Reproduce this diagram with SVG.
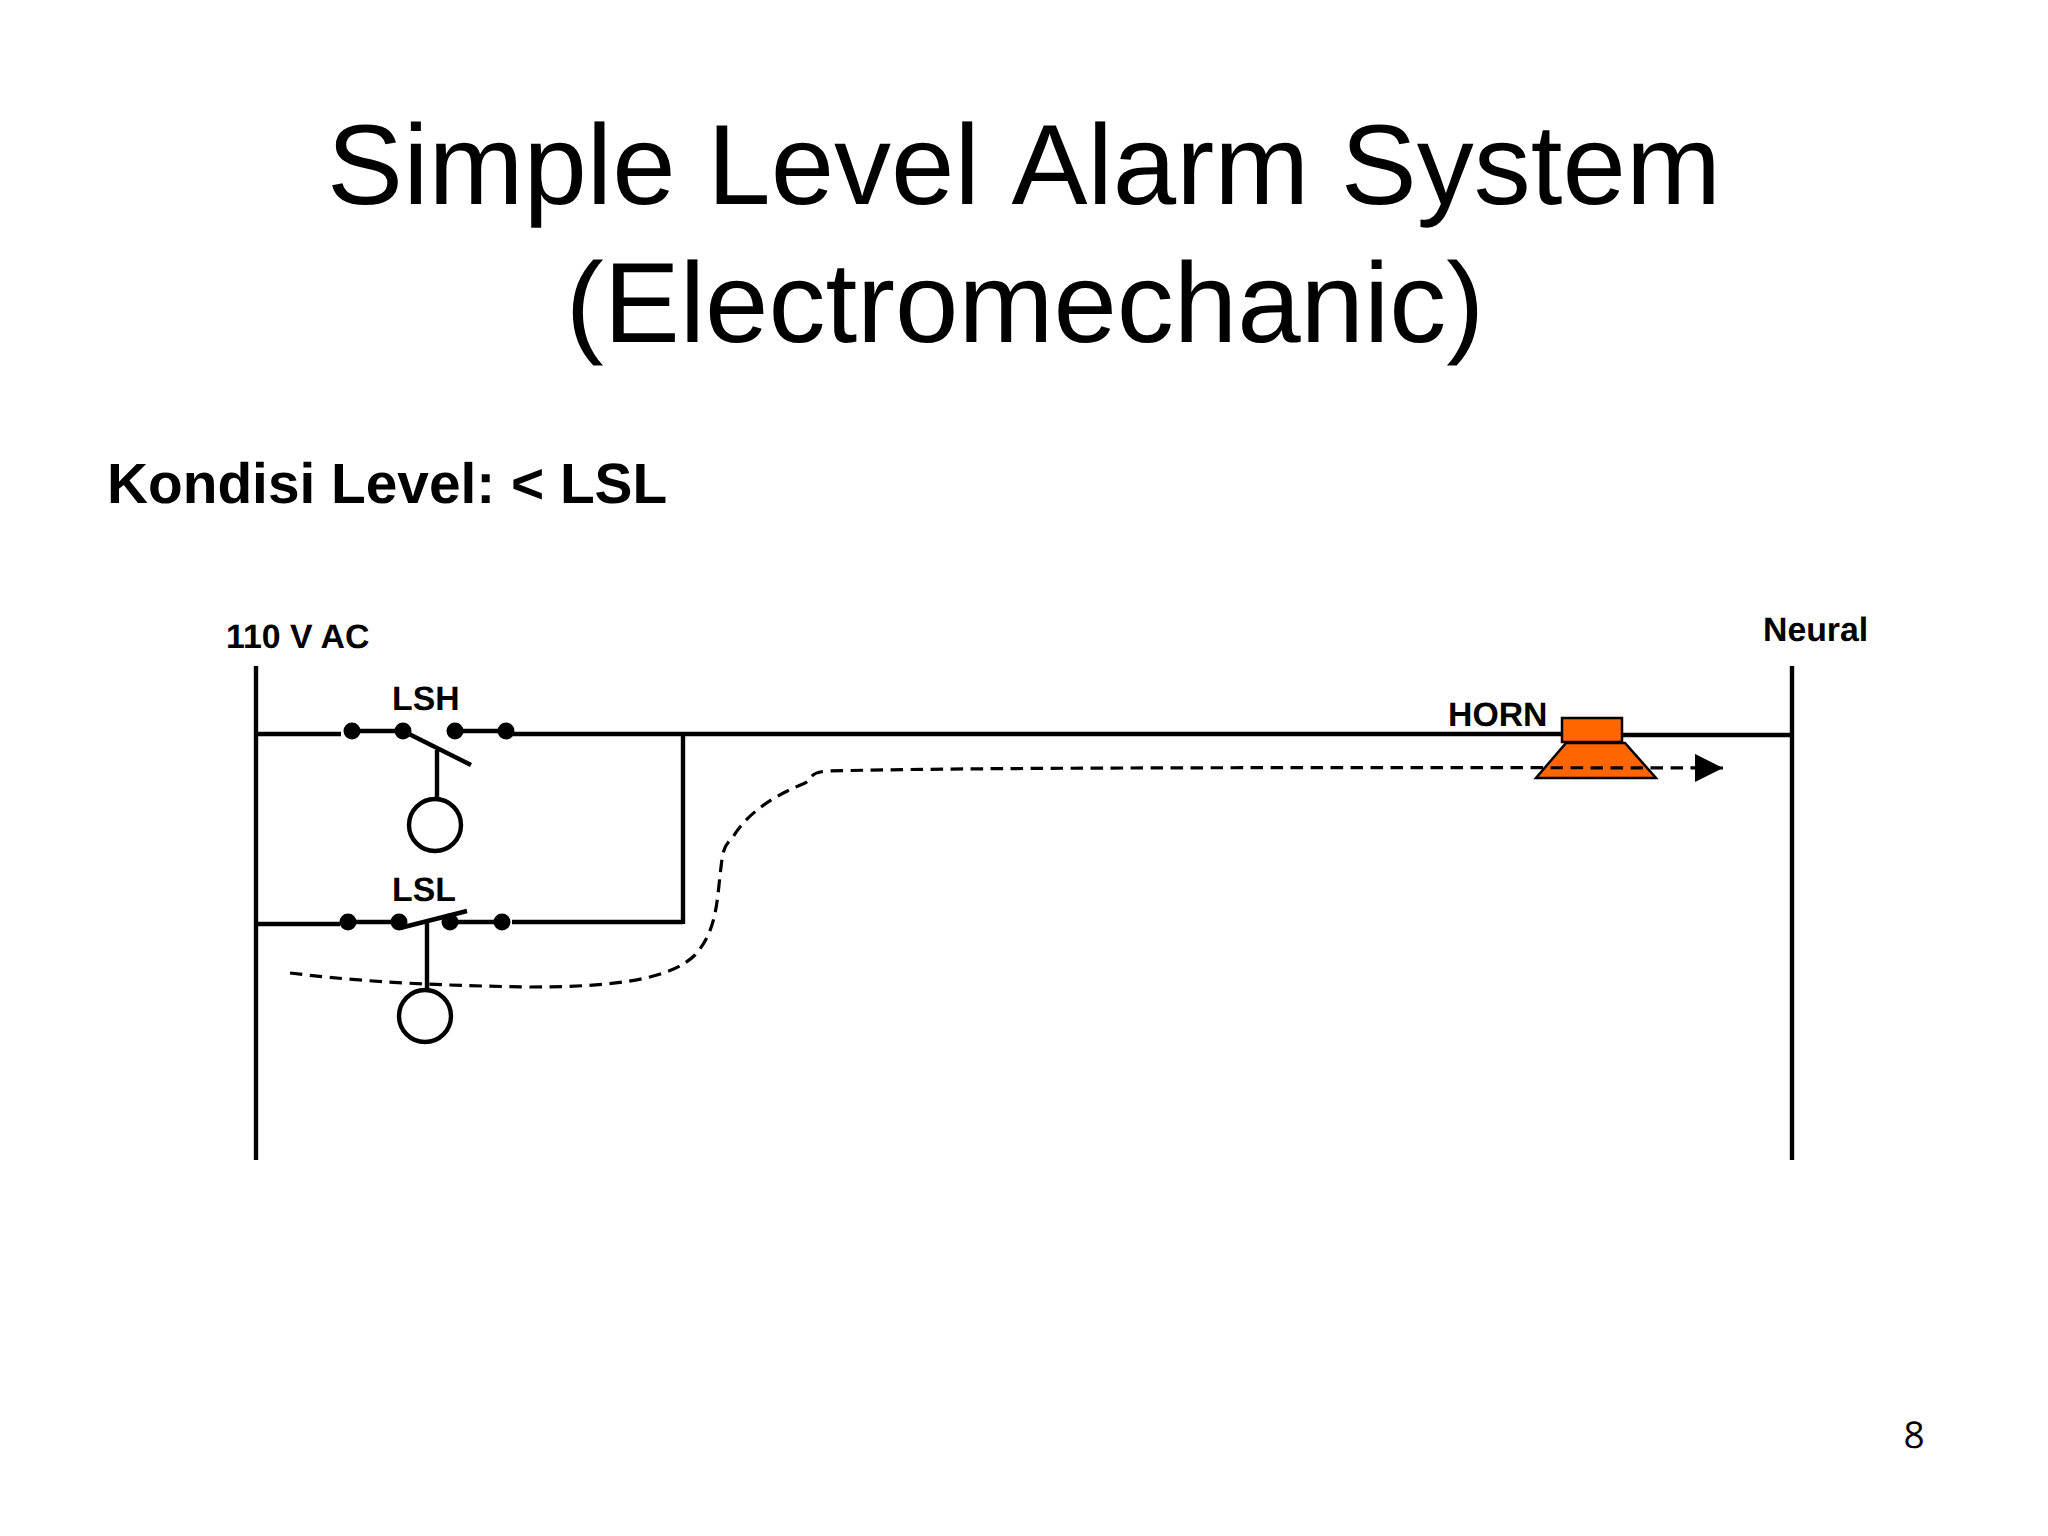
<svg xmlns="http://www.w3.org/2000/svg" width="2048" height="1536" viewBox="0 0 2048 1536">
<style>
text{font-family:"Liberation Sans",Arial,sans-serif;fill:#000;text-rendering:geometricPrecision}
.b{font-weight:700}
.l{font-size:33.8px;font-weight:700}
.w{stroke:#000;stroke-width:4.4;fill:none}
.d{fill:#000}
.o{fill:#ff6600;stroke:#000;stroke-width:2.5}
.t{font-size:114px;text-anchor:middle;font-kerning:none}
.dash{fill:none;stroke:#000;stroke-width:3.2;stroke-dasharray:12.5 7.5}
</style>
<defs><marker id="arrow" markerUnits="userSpaceOnUse" markerWidth="30" markerHeight="30" refX="28" refY="14" orient="auto"><path d="M0 0L28 14L0 28Z" fill="#000"/></marker></defs>
<rect width="2048" height="1536" fill="#fff"/>
<g id="title"><text class="t" x="1024" y="204">Simple Level Alarm System</text><text class="t" x="1025" y="342">(Electromechanic)</text></g>
<text id="condition" class="b" x="107" y="503" font-size="56.8">Kondisi Level: &lt; LSL</text>
<text id="page" x="1914" y="1448" font-size="37" text-anchor="middle" style="font-family:'Open Sans',sans-serif">8</text>
<g id="rail-left"><path class="w" d="M256 666V1160"/></g>
<g id="rail-right"><path class="w" d="M1792 666V1160"/></g>
<g id="label-110"><text class="l" x="226" y="648">110 V AC</text></g>
<g id="label-neural"><text class="l" x="1763" y="641">Neural</text></g>
<g id="lsh"><text class="l" x="392" y="710">LSH</text>
<circle class="d" cx="352" cy="731" r="8.5"/><circle class="d" cx="403" cy="731" r="8.5"/><circle class="d" cx="455" cy="731" r="8.5"/><circle class="d" cx="506" cy="731" r="8.5"/>
<path class="w" d="M407 733L471 765M437 750V798"/><circle class="w" cx="435" cy="825" r="26"/></g>
<g id="lsl"><text class="l" x="392" y="901">LSL</text>
<circle class="d" cx="348" cy="922" r="8.5"/><circle class="d" cx="399" cy="922" r="8.5"/><circle class="d" cx="450" cy="922" r="8.5"/><circle class="d" cx="502" cy="922" r="8.5"/>
<path class="w" d="M400 928L467 911M427 921V990"/><circle class="w" cx="425" cy="1016" r="26"/></g>
<g id="horn"><text class="l" x="1448" y="726">HORN</text>
<path class="o" d="M1566 743H1625L1656 778H1536Z"/><rect class="o" x="1562" y="718" width="60" height="24"/></g>
<g id="connectors">
<path class="w" d="M256 734H341M352 731H403M455 731H506M506 734H1561M256 924H340M348 922H399M450 922H502M512 922H683M683 734V924M1622 735H1792"/>
<path class="dash" marker-end="url(#arrow)" d="M290 973C340 979 400 985 530 987C620 987 672 978 695 955C712 936 716 915 719 885C723 850 722 848 733 837C745 817 768 798 803 784C815 779 806 773 827 771C950 768 1200 767 1723 768"/>
</g>
</svg>
